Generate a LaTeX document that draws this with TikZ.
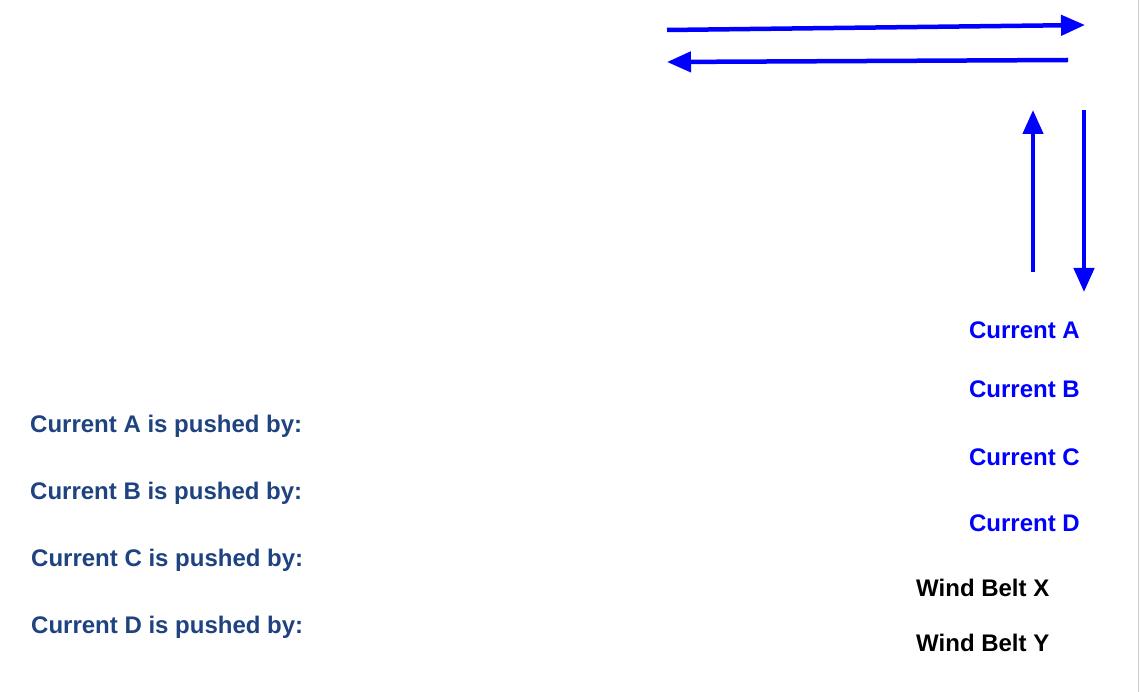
\documentclass[tikz,border=0pt]{standalone}
\usepackage{fontspec}
\setmainfont{Liberation Sans}
\usetikzlibrary{arrows.meta}
\definecolor{lblue}{HTML}{1F4380}
\begin{document}
\begin{tikzpicture}[x=1pt,y=-1pt,
  arr/.style={draw=blue,line width=4.5pt,-{Triangle[length=24pt,width=20pt]}},
  cur/.style={font=\fontsize{24}{28}\selectfont\bfseries,text=blue,anchor=east,inner sep=0pt},
  push/.style={font=\fontsize{24}{28}\selectfont\bfseries,text=lblue,anchor=west,inner sep=0pt},
  belt/.style={font=\fontsize{24}{28}\selectfont\bfseries,text=black,anchor=west,inner sep=0pt}]
\useasboundingbox (0,0) rectangle (1140,692);
\fill[white] (0,0) rectangle (1140,692);
\draw[gray!40,line width=1.5pt] (1138.5,0) -- (1138.5,692);
\coordinate (a1) at (667,30); \coordinate (a2) at (1085,25);
\coordinate (b1) at (1068,60); \coordinate (b2) at (667,62);
\coordinate (c1) at (1033,272); \coordinate (c2) at (1033,110);
\coordinate (d1) at (1084,110); \coordinate (d2) at (1084,292);
\draw[arr] (a1) -- (a2);
\draw[arr] (b1) -- (b2);
\draw[arr] (c1) -- (c2);
\draw[arr] (d1) -- (d2);
\node[cur] (ca) at (1080,330) {Current A};
\node[cur] (cb) at (1080,389) {Current B};
\node[cur] (cc) at (1080,457) {Current C};
\node[cur] (cd) at (1080,523) {Current D};
\node[belt] (wx) at (916,588) {Wind Belt X};
\node[belt] (wy) at (916,643) {Wind Belt Y};
\node[push] (pa) at (30,426) {Current A is pushed by:};
\node[push] (pb) at (30,493) {Current B is pushed by:};
\node[push] (pc) at (31,560) {Current C is pushed by:};
\node[push] (pd) at (31,627) {Current D is pushed by:};
\end{tikzpicture}
\end{document}
